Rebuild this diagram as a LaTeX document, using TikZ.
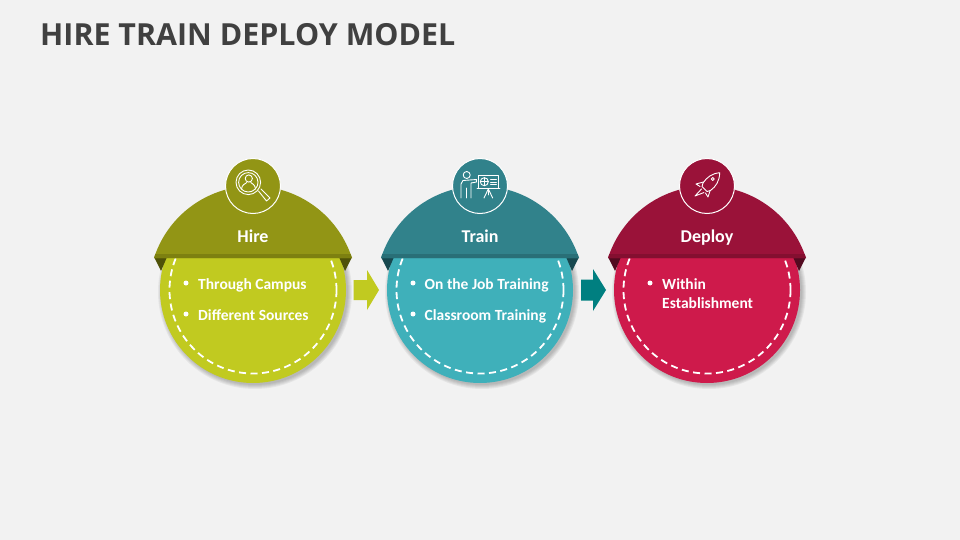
\documentclass[tikz,border=0pt]{standalone}
\usepackage{fontspec}
\setmainfont{Carlito}
\newfontfamily\titlefont{Open Sans}
\usetikzlibrary{positioning,calc}
\definecolor{pagebg}{HTML}{F2F2F2}
\definecolor{titlegray}{HTML}{404040}
\definecolor{hirecap}{HTML}{929515}
\definecolor{hirebody}{HTML}{C1CA20}
\definecolor{hirefold}{HTML}{4F5208}
\definecolor{hireband}{HTML}{7D8010}
\definecolor{traincap}{HTML}{31828B}
\definecolor{trainbody}{HTML}{3FB0BA}
\definecolor{trainfold}{HTML}{17484F}
\definecolor{trainband}{HTML}{296F77}
\definecolor{deploycap}{HTML}{9A1239}
\definecolor{deploybody}{HTML}{CE1A4B}
\definecolor{deployfold}{HTML}{520A20}
\definecolor{deployband}{HTML}{840F30}
\definecolor{nextarrow}{HTML}{007F80}

\begin{document}
\begin{tikzpicture}[
	x=1pt, y=1pt,
	head_label/.style={ % white title on the cap
		text=white, font=\fontsize{18}{18}\selectfont\bfseries, anchor=base, inner sep=0pt
	},
	item/.style={ % text beside a bullet
		text=white, font=\fontsize{15.5}{15.5}\selectfont\bfseries,
		anchor=base west, inner sep=0pt
	},
	dot/.style={
		circle, fill=white, inner sep=0pt, minimum size=5pt
	},
	icon_line/.style={
		draw=white, line width=0.9pt, line join=round, line cap=round
	}
	]
	
	\fill[pagebg] (0,0) rectangle (960,-540);
	\useasboundingbox (0,0) rectangle (960,-540);
	
	\node[anchor=base west, inner sep=0pt, text=titlegray,
		font=\titlefont\fontsize{30.4}{30.4}\selectfont\bfseries] (title) at (40,-45.5) {HIRE TRAIN DEPLOY MODEL};
	
	% ================= CIRCLES =================
	\foreach \cx/\nm/\lab in {253/hire/Hire, 480/train/Train, 707/deploy/Deploy} {
		% soft shadow
		\foreach \r in {93,94,95,96,97} {
			\fill[black, opacity=0.05] (\cx+2,-292) circle (\r);
		}
		\fill[\nm body] (\cx,-290) circle (93);
		\draw[white, line width=1.8pt, dash pattern=on 7pt off 4.5pt] (\cx,-290) circle (83.5);
		% folds under the cap
		\fill[\nm fold] (\cx-99,-257) -- (\cx-86,-257) -- (\cx-92,-271) -- cycle;
		\fill[\nm fold] (\cx+99,-257) -- (\cx+86,-257) -- (\cx+92,-271) -- cycle;
		% cap
		\fill[\nm cap] (\cx-99,-258) arc (162.1:17.9:104) -- cycle;
		\fill[\nm band] (\cx-99,-258) -- (\cx+99,-258) -- (\cx+97.6,-254) -- (\cx-97.6,-254) -- cycle;
		\node[head_label] (label-\nm) at (\cx,-242) {\lab};
		% icon circle
		\filldraw[fill=\nm cap, draw=white, line width=1pt] (\cx,-186) circle (27.5);
	}
	
	% ================= ARROWS =================
	\fill[hirebody] (353.5,-280) -- (367,-280) -- (367,-270) -- (379,-290) -- (367,-310) -- (367,-300) -- (353.5,-300) -- cycle;
	\fill[nextarrow] (581,-279.5) -- (593,-279.5) -- (593,-269) -- (606,-290) -- (593,-311) -- (593,-300.5) -- (581,-300.5) -- cycle;
	
	% ================= TEXT =================
	\node[dot] (dot-h1) at (186,-283) {};
	\node[item] (item-h1) at (198,-289) {Through Campus};
	\node[dot] (dot-h2) at (186,-314) {};
	\node[item] (item-h2) at (198,-320) {Different Sources};
	
	\node[dot] (dot-t1) at (413,-283) {};
	\node[item] (item-t1) at (424.5,-289) {On the Job Training};
	\node[dot] (dot-t2) at (413,-314) {};
	\node[item] (item-t2) at (424.5,-320) {Classroom Training};
	
	\node[dot] (dot-d1) at (650,-283) {};
	\node[item] (item-d1) at (662,-289) {Within};
	\node[item] (item-d2) at (662,-308) {Establishment};
	
	% ================= ICONS =================
	% magnifier
	\draw[icon_line] (248.3,-182.3) circle (12.3);
	\draw[icon_line] (248.3,-182.3) circle (9.7);
	\draw[icon_line] (248.8,-178.5) circle (3.6);
	\draw[icon_line] (241.5,-189) .. controls (242,-184.5) and (245,-184) .. (246.8,-182.5);
	\draw[icon_line] (255.5,-189) .. controls (255,-184.5) and (252.5,-184) .. (250.8,-182.5);
	\draw[icon_line] (258.5,-191) -- (266.5,-201) -- (270,-198) -- (261,-189);
	
	% presenter
	\draw[icon_line] (466.7,-175) circle (3.5);
	\draw[icon_line] (461,-198) -- (461,-184) -- (463,-180.5) -- (476.5,-179.5) -- (476.5,-182) -- (471,-183) -- (471,-198);
	\draw[icon_line] (466,-198) -- (466,-188);
	\draw[icon_line] (478.5,-188) -- (478.5,-175) -- (498.5,-175) -- (498.5,-188);
	\draw[icon_line] (477,-188.7) -- (500,-188.7);
	\draw[icon_line] (484.3,-181.7) circle (4);
	\draw[icon_line] (480.3,-181.7) -- (488.3,-181.7);
	\draw[icon_line] (484.3,-177.7) -- (484.3,-185.7);
	\foreach \ly in {-179.5,-182,-184.5} {
		\draw[icon_line, line width=0.7pt] (490.5,\ly) -- (496.5,\ly);
	}
	\draw[icon_line] (484,-198) -- (488.3,-189) -- (492.7,-198);
	\draw[icon_line] (488.3,-189) -- (488.3,-195);
	
	% rocket
	\draw[icon_line] (719.7,-172.7) .. controls (712,-173.5) and (707,-177) .. (703,-183) -- (702,-186.5) -- (707,-191.5) -- (710.5,-190.5) .. controls (716,-186.5) and (719.5,-181) .. (719.7,-172.7) -- cycle;
	\draw[icon_line] (712.7,-179) circle (1.5);
	\draw[icon_line] (703.5,-182) -- (696,-184) -- (700,-186.5);
	\draw[icon_line] (710,-191) -- (708,-197) -- (705.5,-193);
	\draw[icon_line] (701.5,-189) -- (695,-196) -- (704,-192.5);
\end{tikzpicture}
\end{document}
